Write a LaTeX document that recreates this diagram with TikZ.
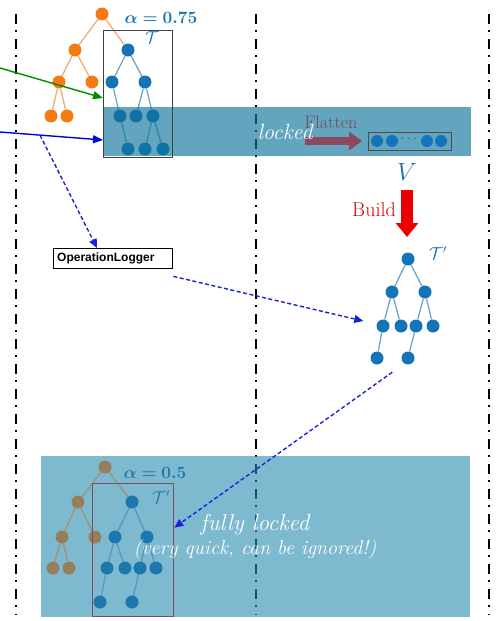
\documentclass[tikz,border=0pt]{standalone}
\usepackage{bm}
\usepackage{fontspec}
\usetikzlibrary{arrows.meta}
\newfontfamily\lsans{Liberation Sans}
\definecolor{orng}{RGB}{245,122,20}
\definecolor{orngedge}{RGB}{242,170,120}
\definecolor{tblue}{RGB}{20,115,185}
\definecolor{tbedge}{RGB}{110,165,205}
\definecolor{bandtop}{RGB}{15,115,155}
\definecolor{bandbot}{RGB}{40,140,175}
\definecolor{darrow}{RGB}{25,35,215}
\definecolor{flat}{RGB}{140,72,95}
\definecolor{boxmar}{RGB}{125,75,100}
\definecolor{brwn}{RGB}{150,126,92}
\definecolor{brwnedge}{RGB}{160,145,120}
\definecolor{mblue}{RGB}{28,120,172}
\definecolor{mbedge}{RGB}{90,150,185}
\tikzset{
  onode/.style={circle,fill=orng,inner sep=0pt,minimum size=13pt},
  bnode/.style={circle,fill=tblue,inner sep=0pt,minimum size=13pt},
  brnode/.style={circle,fill=brwn,inner sep=0pt,minimum size=13pt},
  mbnode/.style={circle,fill=mblue,inner sep=0pt,minimum size=13pt},
  oedge/.style={draw=orngedge,line width=1.3pt},
  bedge/.style={draw=tbedge,line width=1.3pt},
  bredge/.style={draw=brwnedge,line width=1.3pt},
  mbedge/.style={draw=mbedge,line width=1.3pt},
  sepline/.style={line width=2.6pt,dash pattern=on 10pt off 6pt on 2pt off 7pt},
  dasharrow/.style={draw=darrow,line width=1.4pt,dash pattern=on 4pt off 2.5pt,-{Triangle[length=9pt,width=8pt]}},
  solidarrow/.style={line width=1.4pt,-{Triangle[length=10pt,width=8pt]}},
  vdot/.style={circle,fill=tblue,inner sep=0pt,minimum size=12pt},
}
\begin{document}
\begin{tikzpicture}[x=1pt,y=-1pt]
\useasboundingbox (0,0) rectangle (501,621);
% separator lines
\coordinate (s1a) at (16,14); \coordinate (s1b) at (16,615);
\coordinate (s2a) at (256,14); \coordinate (s2b) at (256,615);
\coordinate (s3a) at (489,14); \coordinate (s3b) at (489,615);
\draw[sepline] (s1a) -- (s1b);
\draw[sepline] (s2a) -- (s2b);
\draw[sepline] (s3a) -- (s3b);

% ---------- top tree T ----------
\node[onode] (o1) at (102,14) {};
\node[onode] (o2) at (75,50) {};
\node[onode] (o3) at (59,82) {};
\node[onode] (o4) at (92,82) {};
\node[onode] (o5) at (51,116) {};
\node[onode] (o6) at (67,116) {};
\node[bnode] (b1) at (128,50) {};
\node[bnode] (b2) at (112,82) {};
\node[bnode] (b3) at (145,82) {};
\node[bnode] (b4) at (120,116) {};
\node[bnode] (b5) at (136,116) {};
\node[bnode] (b6) at (153,116) {};
\node[bnode] (b7) at (128,149) {};
\node[bnode] (b8) at (145,149) {};
\node[bnode] (b9) at (163,149) {};
\draw[oedge] (o1) -- (o2);
\draw[oedge] (o1) -- (b1);
\draw[oedge] (o2) -- (o3);
\draw[oedge] (o2) -- (o4);
\draw[oedge] (o3) -- (o5);
\draw[oedge] (o3) -- (o6);
\draw[bedge] (b1) -- (b2);
\draw[bedge] (b1) -- (b3);
\draw[bedge] (b2) -- (b4);
\draw[bedge] (b3) -- (b5);
\draw[bedge] (b3) -- (b6);
\draw[bedge] (b4) -- (b7);
\draw[bedge] (b6) -- (b8);
\draw[bedge] (b6) -- (b9);
\node[text=tblue,font={\fontsize{18.5}{20}\selectfont}] (alpha1) at (161,18) {$\bm{\alpha=0.75}$};
\node[text=tblue,font={\fontsize{17}{19}\selectfont}] (tlab1) at (152,38) {$\mathcal{T}$};

% top band
\fill[bandtop,opacity=0.65] (103,107) rectangle (471,156);
\node[draw=black!75,line width=1.3pt,inner sep=0pt,minimum width=69pt,minimum height=127pt,anchor=north west] (Tbox) at (103,30) {};

% V box
\node[draw=black!70,line width=1.2pt,inner sep=0pt,minimum width=83pt,minimum height=18pt,anchor=north west] (vbox) at (368,132) {};
\node[vdot] (v1) at (377,141) {};
\node[vdot] (v2) at (392,141) {};
\node[vdot] (v3) at (427,141) {};
\node[vdot] (v4) at (441,141) {};
\node[text=tblue,font={\fontsize{14}{14}\selectfont}] (vdots) at (409,139) {$\cdots$};
\node[text=tblue,font={\fontsize{30}{30}\selectfont}] (vlab) at (407,172) {$V$};

% Flatten
\coordinate (fa) at (305,141);
\coordinate (fb) at (362,141);
\draw[flat,line width=8pt,-{Triangle[length=13pt,width=18pt]}] (fa) -- (fb);
\node[text=flat!80!black,opacity=0.85,font={\fontsize{18}{18}\selectfont}] (flatten) at (331,122) {Flatten};
\node[text=white,font={\fontsize{22}{22}\selectfont\itshape}] (locked) at (285,132) {locked};

% Build
\coordinate (ba) at (407,190);
\coordinate (bb) at (407,237);
\draw[red!92!black,line width=12pt,-{Triangle[length=14pt,width=22pt]}] (ba) -- (bb);
\node[text=red!85!black,font={\fontsize{20}{20}\selectfont}] (build) at (374,210) {Build};

% incoming arrows
\coordinate (gin) at (0,68);
\coordinate (gend) at (103,98);
\draw[solidarrow,green!55!black] (gin) -- (gend);
\coordinate (bin) at (0,132);
\coordinate (bend) at (103,140);
\coordinate (bsplit) at (40,135.1);
\draw[solidarrow,blue!90!black] (bin) -- (bend);

% OperationLogger
\node[draw=black,fill=white,line width=1.4pt,inner sep=0pt,minimum width=119pt,minimum height=20pt,anchor=north west] (logger) at (53,248) {};
\node[anchor=west,font={\lsans\bfseries\fontsize{12}{12}\selectfont},inner sep=0pt] (loggertxt) at ([xshift=4pt]logger.west) {OperationLogger};
\draw[dasharrow] (bsplit) -- ([xshift=44pt]logger.north west);

% right T'
\node[bnode] (r1) at (408,259) {};
\node[bnode] (r2) at (392,292) {};
\node[bnode] (r3) at (425,292) {};
\node[bnode] (r4) at (383,326) {};
\node[bnode] (r5) at (401,326) {};
\node[bnode] (r6) at (416,326) {};
\node[bnode] (r7) at (433,326) {};
\node[bnode] (r8) at (377,358) {};
\node[bnode] (r9) at (408,358) {};
\draw[bedge] (r1) -- (r2);
\draw[bedge] (r1) -- (r3);
\draw[bedge] (r2) -- (r4);
\draw[bedge] (r2) -- (r5);
\draw[bedge] (r3) -- (r6);
\draw[bedge] (r3) -- (r7);
\draw[bedge] (r4) -- (r8);
\draw[bedge] (r6) -- (r9);
\node[text=tblue,font={\fontsize{18}{18}\selectfont}] (tlab2) at (438,253) {$\mathcal{T}'$};

\draw[dasharrow] ([yshift=-7pt]logger.south east) -- ([xshift=-13pt,yshift=5pt]r4.west);

% bottom band
\fill[bandbot,opacity=0.6] (41,456) rectangle (470,617);

% bottom tree (seen through the band)
\node[brnode] (p1) at (105,467) {};
\node[brnode] (p2) at (78,502) {};
\node[brnode] (p3) at (62,537) {};
\node[brnode] (p4) at (95,537) {};
\node[brnode] (p5) at (53,568) {};
\node[brnode] (p6) at (69,568) {};
\node[mbnode] (q1) at (132,502) {};
\node[mbnode] (q2) at (115,537) {};
\node[mbnode] (q3) at (147,537) {};
\node[mbnode] (q4) at (107,568) {};
\node[mbnode] (q5) at (125,568) {};
\node[mbnode] (q6) at (140,568) {};
\node[mbnode] (q7) at (156,568) {};
\node[mbnode] (q8) at (100,602) {};
\node[mbnode] (q9) at (132,602) {};
\draw[bredge] (p1) -- (p2);
\draw[bredge] (p1) -- (q1);
\draw[bredge] (p2) -- (p3);
\draw[bredge] (p2) -- (p4);
\draw[bredge] (p3) -- (p5);
\draw[bredge] (p3) -- (p6);
\draw[mbedge] (q1) -- (q2);
\draw[mbedge] (q1) -- (q3);
\draw[mbedge] (q2) -- (q4);
\draw[mbedge] (q2) -- (q5);
\draw[mbedge] (q3) -- (q6);
\draw[mbedge] (q3) -- (q7);
\draw[mbedge] (q4) -- (q8);
\draw[mbedge] (q6) -- (q9);
\node[text=mblue,font={\fontsize{19}{20}\selectfont}] (alpha2) at (155,473) {$\bm{\alpha=0.5}$};
\node[text=mblue,font={\fontsize{17}{19}\selectfont}] (tlab3) at (161,497) {$\mathcal{T}'$};

\node[draw=boxmar,line width=1.3pt,inner sep=0pt,minimum width=81pt,minimum height=133pt,anchor=north west] (Tbox2) at (92,483) {};
\node[text=white,font={\fontsize{23}{23}\selectfont\itshape}] (fully) at (255,525) {fully locked};
\node[text=white,font={\fontsize{20}{20}\selectfont\itshape}] (quick) at (255,550) {(very quick, can be ignored!)};

\draw[dasharrow] ([xshift=-11pt,yshift=-9.5pt]r9.south west) -- ([yshift=22.5pt]Tbox2.east);
\end{tikzpicture}
\end{document}
